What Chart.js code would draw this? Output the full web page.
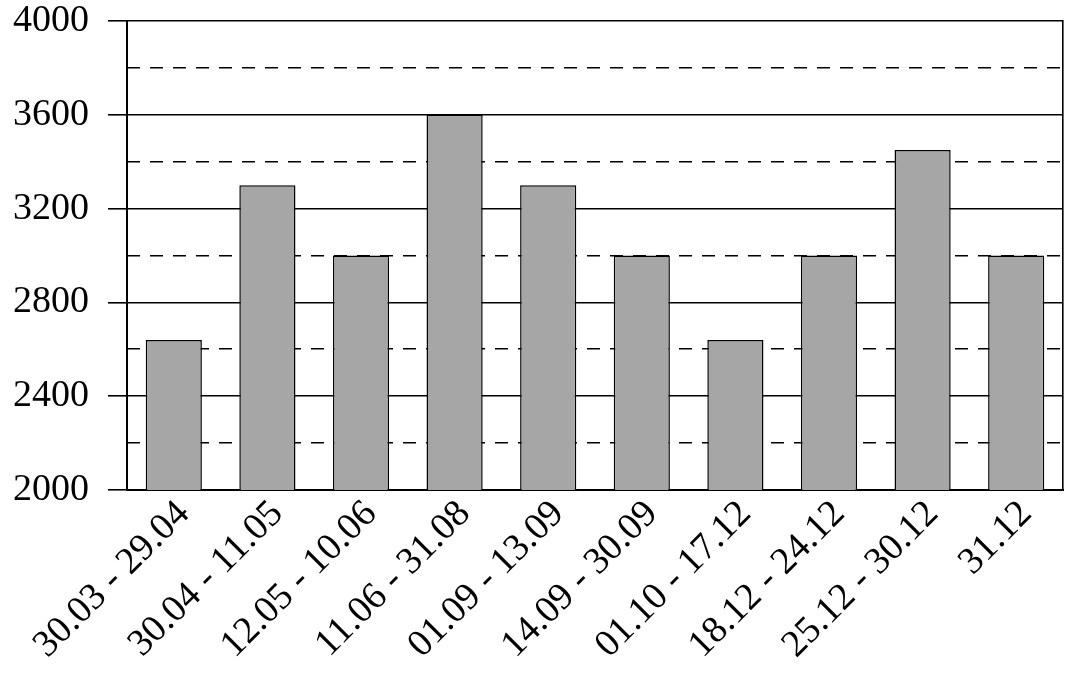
<!DOCTYPE html>
<html>
<head>
<meta charset="utf-8">
<script src="https://cdn.jsdelivr.net/npm/chart.js@4.4.0/dist/chart.umd.min.js"></script>
<style>
  html, body { margin: 0; padding: 0; background: #fff; }
  #wrap { width: 1069px; height: 677px; }
</style>
</head>
<body>
<div id="wrap"><canvas id="chart"></canvas></div>
<script>
// periods on the x axis
const periods = [
    '30.03 - 29.04', '30.04 - 11.05', '12.05 - 10.06', '11.06 - 31.08', '01.09 - 13.09',
    '14.09 - 30.09', '01.10 - 17.12', '18.12 - 24.12', '25.12 - 30.12', '31.12'
];
const values = [2640, 3300, 3000, 3600, 3300, 3000, 2640, 3000, 3450, 3000];

const yMin = 2000;
const yMax = 4000;
const solidStep = 400;   // labelled lines
const dashStep = 200;    // dashed lines in between

const labelFont = { family: '"Liberation Serif", "Times New Roman", serif', size: 38 };

const ctx = document.getElementById('chart').getContext('2d');

new Chart(ctx, {
    type: 'bar',
    data: {
        labels: periods,
        datasets: [{
            data: values,
            backgroundColor: '#a6a6a6',
            borderColor: '#000000',
            borderWidth: 1.5,
            categoryPercentage: 0.6,
            barPercentage: 1.0
        }]
    },
    options: {
        responsive: true,
        maintainAspectRatio: false,
        animation: false,
        layout: {
            padding: { top: 21, right: 0, bottom: 0, left: 0 }
        },
        plugins: {
            legend: { display: false },
            tooltip: { enabled: false }
        },
        scales: {
            x: {
                grid: { display: false, drawTicks: false },
                border: { color: '#000000', width: 2 },
                ticks: {
                    color: '#000000',
                    font: labelFont,
                    minRotation: 45,
                    maxRotation: 45,
                    padding: 2,
                    labelOffset: 10
                },
                afterFit: (scale) => { scale.height = 187; }
            },
            y: {
                position: 'left',
                min: yMin,
                max: yMax,
                z: 1,
                ticks: {
                    stepSize: solidStep,
                    color: '#000000',
                    font: labelFont,
                    padding: 19,
                    callback: (value) => String(value)
                },
                grid: {
                    color: '#000000',
                    lineWidth: 1.6,
                    tickLength: 19,
                    tickColor: '#000000'
                },
                border: { color: '#000000', width: 2 },
                afterFit: (scale) => {
                    scale.width = 127;
                    // the label padding would otherwise push the plot down
                    scale.paddingTop = 0;
                    scale.paddingBottom = 0;
                }
            },
            yDash: {
                position: 'right',
                min: yMin,
                max: yMax,
                z: 1,
                ticks: { stepSize: dashStep, display: false },
                grid: {
                    // only the in-between values get a dashed line
                    color: (c) => (c.index % 2 === 1 ? '#000000' : 'rgba(0,0,0,0)'),
                    lineWidth: 1.6,
                    drawTicks: false
                },
                border: { display: true, color: '#000000', width: 1.6, dash: [13, 10] },
                afterFit: (scale) => { scale.width = 6; }
            }
        }
    }
});
</script>
</body>
</html>
